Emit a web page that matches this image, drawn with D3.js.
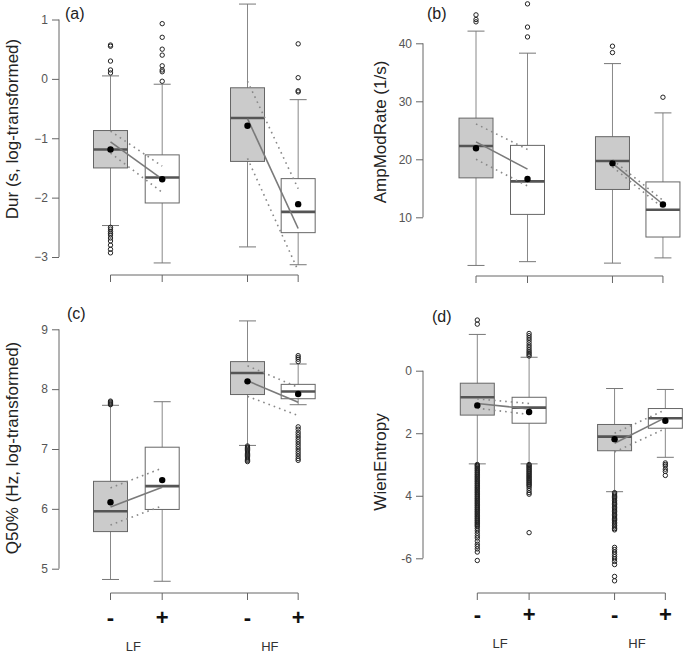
<!DOCTYPE html>
<html>
<head>
<meta charset="utf-8">
<script src="https://cdn.jsdelivr.net/npm/d3@7"></script>
<style>
  body { margin: 0; background: #fff; }
  svg { display: block; font-family: "Liberation Sans", Arial, sans-serif; }
</style>
</head>
<body>
<script>
// ---- data ----
const groups = ['LF', 'HF'];
const treatments = ['-', '+'];
const panelLetters = ['(a)', '(b)', '(c)', '(d)'];
const yTitles = ['Dur (s, log-transformed)', 'AmpModRate (1/s)', 'Q50% (Hz, log-transformed)', 'WienEntropy'];

// box order: LF-, LF+, HF-, HF+ ; [lower whisker, q1, median, q3, upper whisker]
const durBox = [[-2.47, -1.5, -1.19, -0.87, 0.05], [-3.1, -2.09, -1.66, -1.28, -0.09],
                [-2.83, -1.39, -0.66, -0.15, 1.26], [-3.13, -2.59, -2.24, -1.68, -0.35]];
const durMean = [-1.19, -1.69, -0.79, -2.11];
const durOut = [
  [0.57, 0.55, 0.3, 0.15, 0.1, -2.5, -2.53, -2.57, -2.6, -2.63, -2.68, -2.73, -2.8, -2.87, -2.93],
  [0.93, 0.7, 0.5, 0.4, 0.22, 0.15, 0.12, -0.04],
  [],
  [0.59, 0.02, -0.2, -0.22]
];
const durFit = [[-1.06, -1.69], [-0.67, -2.52]];
const durUpper = [[-0.88, -1.47], [-0.04, -1.85]];
const durLower = [[-1.25, -1.91], [-1.34, -3.23]];
const durTicks = [-3, -2, -1, 0, 1];

const ampBox = [[1.7, 16.8, 22.3, 27.1, 42.1], [2.35, 10.5, 16.2, 22.4, 38.3],
                [2.1, 14.8, 19.7, 23.9, 36.5], [3.0, 6.6, 11.3, 16.1, 28.0]];
const ampMean = [21.9, 16.6, 19.3, 12.2];
const ampOut = [[44.9, 44.1, 43.7], [46.8, 42.8, 41.1], [39.5, 38.4], [30.7]];
const ampFit = [[23.0, 18.3], [19.3, 12.25]];
const ampUpper = [[26.1, 21.7], [19.9, 12.9]];
const ampLower = [[20.0, 15.4], [18.7, 11.6]];
const ampTicks = [10, 20, 30, 40];

const q50Box = [[4.82, 5.62, 5.96, 6.46, 7.73], [4.79, 5.99, 6.38, 7.03, 7.79],
                [7.06, 7.91, 8.27, 8.46, 9.14], [7.74, 7.84, 7.96, 8.08, 8.42]];
const q50Mean = [6.11, 6.48, 8.13, 7.92];
const q50Out = [
  [7.74, 7.755, 7.77, 7.785, 7.8],
  [],
  [7.05, 7.03, 7.01, 6.99, 6.97, 6.95, 6.93, 6.91, 6.89, 6.87, 6.85, 6.83, 6.81, 6.79],
  [8.46, 8.5, 8.53, 8.56, 7.37, 7.33, 7.28, 7.24, 7.2, 7.16, 7.12, 7.08, 7.04, 7.0,
   6.96, 6.92, 6.88, 6.84, 6.81]
];
const q50Fit = [[6.03, 6.36], [8.14, 7.78]];
const q50Upper = [[6.35, 6.68], [8.39, 8.03]];
const q50Lower = [[5.73, 6.05], [7.88, 7.56]];
const q50Ticks = [5, 6, 7, 8, 9];

const wienBox = [[-2.98, -1.42, -0.85, -0.40, 1.16], [-2.98, -1.68, -1.18, -0.85, 0.43],
                 [-3.87, -2.56, -2.11, -1.72, -0.57], [-2.77, -1.84, -1.52, -1.21, -0.6]];
const wienMean = [-1.11, -1.32, -2.19, -1.6];
const wienOut = [
  [1.62, 1.49,
   -3.0, -3.03, -3.06, -3.1, -3.13, -3.17, -3.2, -3.24, -3.27, -3.31, -3.34, -3.38, -3.41, -3.45,
   -3.48, -3.52, -3.55, -3.59, -3.62, -3.66, -3.69, -3.73, -3.76, -3.8, -3.83, -3.87, -3.9, -3.94,
   -3.97, -4.01, -4.04, -4.08, -4.11, -4.15, -4.18, -4.22, -4.25, -4.29, -4.32, -4.36, -4.39, -4.43,
   -4.46, -4.5, -4.53, -4.57, -4.6, -4.64, -4.67, -4.71, -4.74, -4.78, -4.81, -4.85, -4.88, -4.92,
   -4.95, -4.99, -5.05, -5.12, -5.2, -5.28, -5.35, -5.45, -5.55, -5.62, -5.7, -5.8, -6.07],
  [0.47, 0.52, 0.57, 0.62, 0.68, 0.75, 0.82, 0.9, 0.98, 1.05, 1.12, 1.19,
   -3.0, -3.03, -3.07, -3.1, -3.14, -3.17, -3.21, -3.24, -3.28, -3.31, -3.35, -3.38, -3.42, -3.45,
   -3.49, -3.52, -3.56, -3.59, -3.63, -3.66, -3.7, -3.76, -3.83, -3.9, -3.95, -5.18],
  [-3.9, -3.94, -3.98, -4.02, -4.06, -4.1, -4.15, -4.2, -4.24, -4.28, -4.33, -4.38, -4.42, -4.46,
   -4.5, -4.55, -4.6, -4.64, -4.68, -4.72, -4.76, -4.8, -4.85, -4.9, -4.95, -5.0, -5.05, -5.09,
   -5.65, -5.72, -5.8, -5.88, -5.95, -6.02, -6.1, -6.2, -6.58, -6.72],
  [-2.95, -3.0, -3.05, -3.15, -3.22, -3.35]
];
const wienFit = [[-1.05, -1.22], [-2.32, -1.5]];
const wienUpper = [[-0.9, -1.05], [-2.0, -1.25]];
const wienLower = [[-1.2, -1.4], [-2.6, -1.85]];
const wienTicks = [0, -2, -4, -6];
const wienTickLabels = ['0', '2', '4', '-6'];

// ---- layout ----
const W = 685, H = 655;
const slots = [0, 1, 2.65, 3.63];
const boxW = 34;

const svg = d3.select('body').append('svg').attr('width', W).attr('height', H);

const panels = [
  {box: durBox, mean: durMean, out: durOut, fit: durFit, up: durUpper, lo: durLower, ticks: durTicks,
   axisX: 59, baseY: 275, yDom: [-3, 1], yRng: [257, 19.5], x0: 110.5, step: 51.7,
   titleX: 18, titleY: 129, lab: [65, 19], signs: null},
  {box: ampBox, mean: ampMean, out: ampOut, fit: ampFit, up: ampUpper, lo: ampLower, ticks: ampTicks,
   axisX: 423, baseY: 276, yDom: [10, 40], yRng: [217.3, 43.3], x0: 476, step: 51.5,
   titleX: 386, titleY: 132, lab: [427, 19], signs: null},
  {box: q50Box, mean: q50Mean, out: q50Out, fit: q50Fit, up: q50Upper, lo: q50Lower, ticks: q50Ticks,
   axisX: 59, baseY: 593, yDom: [5, 9], yRng: [568.7, 329.3], x0: 110.5, step: 51.7,
   titleX: 18, titleY: 448, lab: [67, 319], signs: [625, 651]},
  {box: wienBox, mean: wienMean, out: wienOut, fit: wienFit, up: wienUpper, lo: wienLower, ticks: wienTicks,
   tickLabels: wienTickLabels,
   axisX: 423, baseY: 593, yDom: [-6, 0], yRng: [558.3, 370.7], x0: 477.3, step: 51.8,
   titleX: 386, titleY: 462, lab: [432, 322], signs: [622, 648]}
];

panels.forEach((p, pi) => {
  const y = d3.scaleLinear().domain(p.yDom).range(p.yRng);
  const x = d3.scaleLinear().domain([0, 1]).range([p.x0, p.x0 + p.step]);
  const g = svg.append('g');

  // y axis
  const yAxis = d3.axisLeft(y).tickValues(p.ticks).tickSize(7).tickPadding(4)
    .tickFormat((d, i) => p.tickLabels ? p.tickLabels[i] : d3.format('d')(d));
  const ya = g.append('g').attr('transform', `translate(${p.axisX},0)`).call(yAxis);
  ya.select('.domain').attr('d', `M-0,${y(d3.min(p.ticks))}V${y(d3.max(p.ticks))}`);
  ya.selectAll('path, line').attr('stroke', '#666');
  ya.selectAll('text').attr('fill', '#555').style('font-size', '12px')
    .style('font-family', '"Liberation Sans", Arial, sans-serif');

  // x axis
  const xs = slots.map(s => x(s));
  g.append('line').attr('x1', xs[0]).attr('x2', xs[3]).attr('y1', p.baseY).attr('y2', p.baseY)
    .attr('stroke', '#666');
  g.selectAll('.xt').data(xs).enter().append('line')
    .attr('x1', d => d).attr('x2', d => d).attr('y1', p.baseY).attr('y2', p.baseY + 7)
    .attr('stroke', '#666');

  // y title
  g.append('text').text(yTitles[pi])
    .attr('transform', `translate(${p.titleX},${p.titleY}) rotate(-90)`)
    .attr('text-anchor', 'middle').attr('fill', '#222').style('font-size', '17px');

  // panel letter
  g.append('text').text(panelLetters[pi]).attr('x', p.lab[0]).attr('y', p.lab[1])
    .attr('fill', '#222').style('font-size', '16px');

  // boxes
  const boxes = g.selectAll('.bx').data(p.box).enter().append('g');
  boxes.append('line')
    .attr('x1', (d, i) => xs[i]).attr('x2', (d, i) => xs[i])
    .attr('y1', d => y(d[0])).attr('y2', d => y(d[4])).attr('stroke', '#888');
  boxes.each(function(d, i) {
    d3.select(this).selectAll('.cap').data([d[0], d[4]]).enter().append('line')
      .attr('x1', xs[i] - boxW / 4).attr('x2', xs[i] + boxW / 4)
      .attr('y1', v => y(v)).attr('y2', v => y(v)).attr('stroke', '#777');
  });
  boxes.append('rect')
    .attr('x', (d, i) => xs[i] - boxW / 2).attr('width', boxW)
    .attr('y', d => y(d[3])).attr('height', d => y(d[1]) - y(d[3]))
    .attr('fill', (d, i) => i % 2 === 0 ? '#cbcbcb' : '#fff')
    .attr('stroke', '#666').attr('stroke-width', 1);
  boxes.append('line')
    .attr('x1', (d, i) => xs[i] - boxW / 2).attr('x2', (d, i) => xs[i] + boxW / 2)
    .attr('y1', d => y(d[2])).attr('y2', d => y(d[2]))
    .attr('stroke', '#555').attr('stroke-width', 2.6);

  // outliers
  p.out.forEach((vals, i) => {
    g.selectAll(null).data(vals).enter().append('circle')
      .attr('cx', xs[i]).attr('cy', d => y(d)).attr('r', 2.2)
      .attr('fill', 'none').attr('stroke', '#222').attr('stroke-width', 1);
  });

  // fitted lines and intervals
  const line = d3.line().x(d => d[0]).y(d => y(d[1]));
  [0, 1].forEach(gi => {
    const px = [xs[gi * 2], xs[gi * 2 + 1]];
    [p.up[gi], p.lo[gi]].forEach(v => {
      g.append('path').attr('d', line([[px[0], v[0]], [px[1], v[1]]]))
        .attr('stroke', '#888').attr('stroke-width', 1.6).attr('fill', 'none')
        .attr('stroke-dasharray', '1.6,4');
    });
    g.append('path').attr('d', line([[px[0], p.fit[gi][0]], [px[1], p.fit[gi][1]]]))
      .attr('stroke', '#7a7a7a').attr('stroke-width', 1.6).attr('fill', 'none');
  });

  // means
  g.selectAll('.mn').data(p.mean).enter().append('circle')
    .attr('cx', (d, i) => xs[i]).attr('cy', d => y(d)).attr('r', 3.2).attr('fill', '#000');

  // treatment signs and group names
  if (p.signs) {
    g.selectAll('.sg').data(slots).enter().append('text')
      .text((d, i) => treatments[i % 2])
      .attr('x', (d, i) => xs[i]).attr('y', p.signs[0]).attr('text-anchor', 'middle')
      .attr('fill', '#111').style('font-size', '22px').style('font-weight', 'bold');
    g.selectAll('.gn').data(groups).enter().append('text').text(d => d)
      .attr('x', (d, i) => (xs[i * 2] + xs[i * 2 + 1]) / 2 - 3).attr('y', p.signs[1])
      .attr('text-anchor', 'middle').attr('fill', '#333').style('font-size', '13px');
  }
});
</script>
</body>
</html>
